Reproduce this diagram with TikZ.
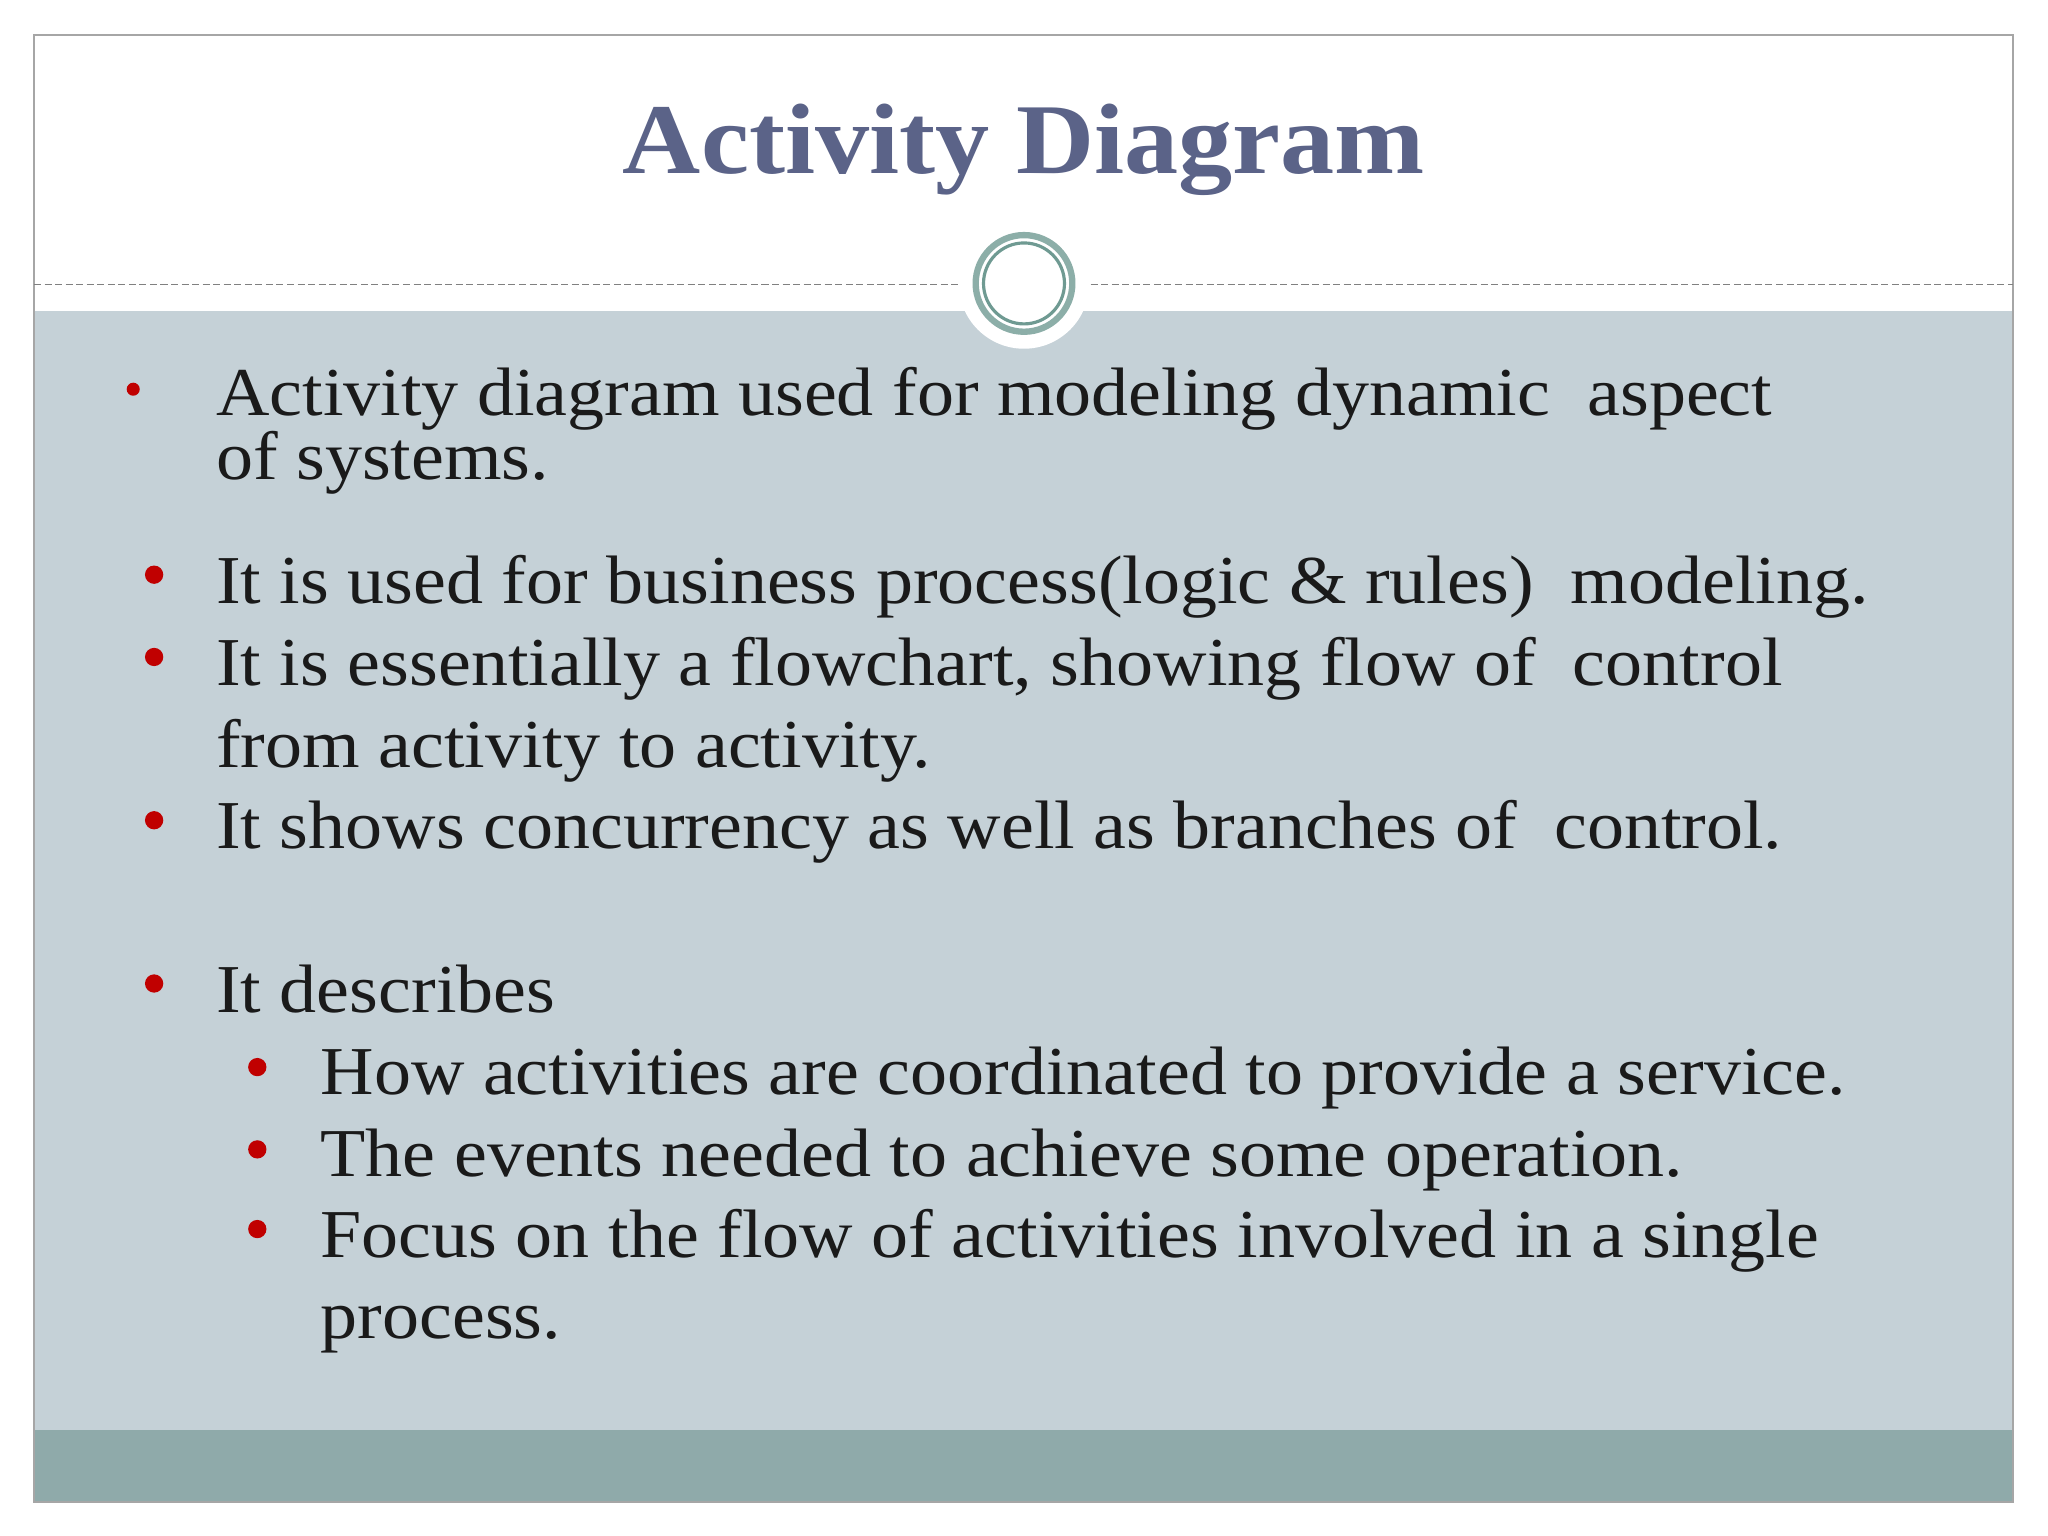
\documentclass[tikz,border=0pt]{standalone}
\usepackage{fontspec}
\setmainfont{Liberation Serif}[FakeStretch=1.08]
\definecolor{bodybg}{HTML}{C5D1D7}
\definecolor{band}{HTML}{8FAAAA}
\definecolor{titlec}{HTML}{5B6388}
\definecolor{ringc}{HTML}{6F9A92}
\definecolor{bred}{HTML}{C00000}
\definecolor{txt}{HTML}{1A1A1A}
\begin{document}
\begin{tikzpicture}[x=0.01306cm,y=-0.01306cm,
  body/.style={anchor=base west,inner sep=0pt,font=\fontsize{19.5}{23}\selectfont,text=txt},
  dot/.style={fill=bred,draw=none}]
\useasboundingbox (0,0) rectangle (1568,1176);
\fill[white] (0,0) rectangle (1568,1176);
\fill[bodybg] (26,238) rectangle (1541,1095);
\fill[band] (26,1095) rectangle (1541,1150);
\draw[gray!70,line width=0.6pt] (26,27) rectangle (1541,1150);
\draw[gray,dash pattern=on 2pt off 1pt,line width=0.3pt] (26,218) -- (735,218);
\draw[gray,dash pattern=on 2pt off 1pt,line width=0.3pt] (835,218) -- (1541,218);
\fill[white] (784,217) circle (50);
\draw[ringc!80,line width=1.8pt] (784,217) circle (37);
\draw[ringc,line width=0.9pt] (784,217) circle (31);
\node[anchor=base,inner sep=0pt,font=\fontsize{28.5}{34}\selectfont\bfseries,text=titlec] (title) at (784,133) {Activity Diagram};
\fill[dot] (102,298) circle (5);
\node[body] (l1) at (165,318) {Activity diagram used for modeling dynamic\ \ aspect};
\node[body] (l1b) at (165,367) {of systems.};
\fill[dot] (118,440) circle (7);
\node[body] (l2) at (165,462) {It is used for business process(logic \& rules)\ \ modeling.};
\fill[dot] (118,503) circle (7);
\node[body] (l3) at (165,525) {It is essentially a flowchart, showing flow of\ \ control};
\node[body] (l3b) at (165,588) {from activity to activity.};
\fill[dot] (118,628) circle (7);
\node[body] (l4) at (165,650) {It shows concurrency as well as branches of\ \ control.};
\fill[dot] (118,753) circle (7);
\node[body] (l5) at (165,775) {It describes};
\fill[dot] (197,817) circle (7);
\node[body] (s1) at (245,838) {How activities are coordinated to provide a service.};
\fill[dot] (197,880) circle (7);
\node[body] (s2) at (245,901) {The events needed to achieve some operation.};
\fill[dot] (197,941) circle (7);
\node[body] (s3) at (245,963) {Focus on the flow of activities involved in a single};
\node[body] (s3b) at (245,1025) {process.};
\end{tikzpicture}
\end{document}
